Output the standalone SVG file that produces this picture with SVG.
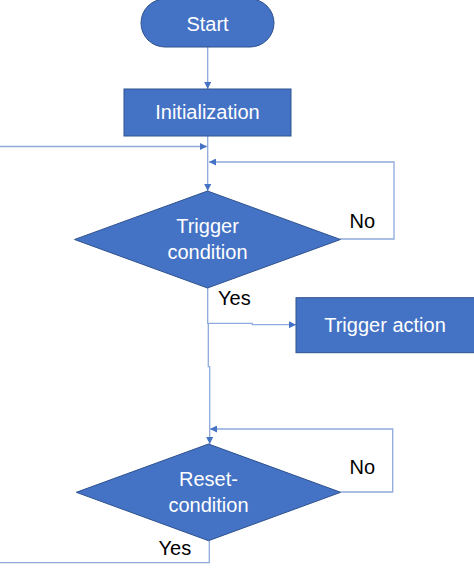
<svg xmlns="http://www.w3.org/2000/svg" width="474" height="575" viewBox="0 0 474 575">
<style>
.node{fill:#4472C4;stroke:#2F528F;stroke-width:1}
.lbl{font-family:"Liberation Sans",Arial,sans-serif;font-size:20px;fill:#ffffff;text-anchor:middle}
.edge{font-family:"Liberation Sans",Arial,sans-serif;font-size:20px;fill:#000000}
.conn{fill:none;stroke:#8FAADC;stroke-width:1.3}
</style>
<defs>
<marker id="arr" viewBox="0 0 10 10" refX="10" refY="5" markerWidth="7" markerHeight="7" markerUnits="userSpaceOnUse" orient="auto">
<path d="M0,0 L10,5 L0,10 Z" fill="#4472C4"/>
</marker>
</defs>
<rect width="474" height="575" fill="#ffffff"/>
<g id="connectors">
<path class="conn" d="M207.7,47 L207.7,89" marker-end="url(#arr)"/>
<path class="conn" d="M207.7,136 L207.7,191" marker-end="url(#arr)"/>
<path class="conn" d="M0,146.5 L207,146.5" marker-end="url(#arr)"/>
<path class="conn" d="M340,239 L394,239 L394,162 L209,162" marker-end="url(#arr)"/>
<path class="conn" d="M207.7,288 L207.7,323.3 L252.3,323.3 L252.3,324.7 L296,324.7" marker-end="url(#arr)"/>
<path class="conn" d="M208.3,323.3 L208.3,366.7 L209.7,366.7 L209.7,444" marker-end="url(#arr)"/>
<path class="conn" d="M340.7,492 L392.7,492 L392.7,429 L210,429" marker-end="url(#arr)"/>
<path class="conn" d="M209.3,541 L209.3,562.7 L0,562.7"/>
</g>
<g id="start">
<rect class="node" x="141" y="-1" width="133" height="48" rx="24" ry="24"/>
<text class="lbl" x="207.5" y="31">Start</text>
</g>
<g id="init">
<rect class="node" x="124" y="89" width="167" height="47"/>
<text class="lbl" x="207.5" y="119.3">Initialization</text>
</g>
<g id="trigger-condition">
<polygon class="node" points="207.5,191 340.5,239.5 207.5,288 74.5,239.5"/>
<text class="lbl" x="207.5" y="233.3">Trigger</text>
<text class="lbl" x="207.5" y="259">condition</text>
</g>
<g id="trigger-action">
<rect class="node" x="296" y="297.7" width="179" height="55"/>
<text class="lbl" x="385" y="332.3">Trigger action</text>
</g>
<g id="reset-condition">
<polygon class="node" points="208.5,444 340.7,492.3 208.5,540.7 76.3,492.3"/>
<text class="lbl" x="208.5" y="486">Reset-</text>
<text class="lbl" x="208.5" y="512.3">condition</text>
</g>
<g id="labels">
<text class="edge" x="349.5" y="228.3">No</text>
<text class="edge" x="218" y="305">Yes</text>
<text class="edge" x="349.5" y="474.3">No</text>
<text class="edge" x="158.5" y="555">Yes</text>
</g>
</svg>
